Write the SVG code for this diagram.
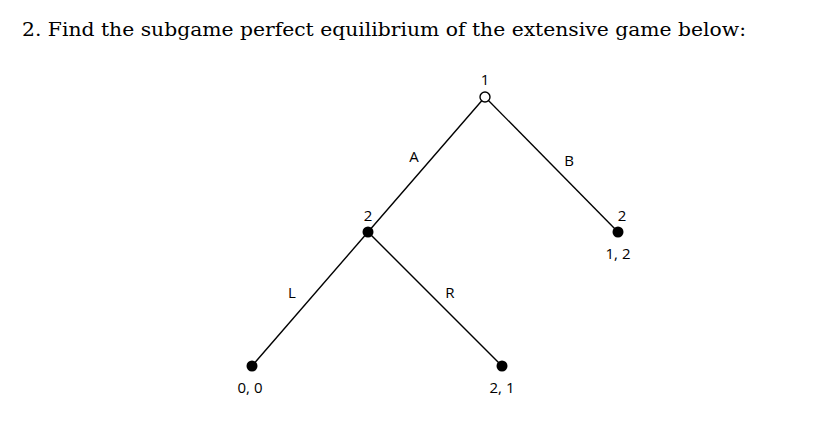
<svg xmlns="http://www.w3.org/2000/svg" width="816" height="423" viewBox="0 0 816 423">
<style>
.t{font-family:"DejaVu Serif","Liberation Serif",serif;font-size:19px;fill:#000}
.l{font-family:"Open Sans","Liberation Sans",sans-serif;font-size:15px;fill:#000}
.e{stroke:#000;stroke-width:1.4;fill:none}
.d{fill:#000}
</style>
<rect width="816" height="423" fill="#fff"/>
<text class="t" x="22" y="36" textLength="724" lengthAdjust="spacingAndGlyphs">2.  Find the subgame perfect equilibrium of the extensive game below:</text>
<g id="connectors">
<line class="e" x1="485" y1="97" x2="368" y2="232"/>
<line class="e" x1="485" y1="97" x2="618" y2="232"/>
<line class="e" x1="368" y1="232" x2="252" y2="366"/>
<line class="e" x1="368" y1="232" x2="502" y2="366"/>
</g>
<g id="n1"><circle cx="485" cy="97" r="5" fill="#fff" stroke="#000" stroke-width="1.4"/><text class="l" x="485" y="85" text-anchor="middle">1</text></g>
<g id="n2"><circle class="d" cx="368" cy="232" r="5.5"/><text class="l" x="368" y="221" text-anchor="middle">2</text></g>
<g id="n3"><circle class="d" cx="618" cy="232" r="5.5"/><text class="l" x="622" y="221" text-anchor="middle">2</text><text class="l" x="618" y="259" text-anchor="middle">1, 2</text></g>
<g id="n4"><circle class="d" cx="252" cy="366" r="5.5"/><text class="l" x="250" y="393" text-anchor="middle">0, 0</text></g>
<g id="n5"><circle class="d" cx="502" cy="366" r="5.5"/><text class="l" x="502" y="393" text-anchor="middle">2, 1</text></g>
<g id="labels">
<text class="l" x="414" y="162" text-anchor="middle">A</text>
<text class="l" x="569" y="166" text-anchor="middle">B</text>
<text class="l" x="292" y="298" text-anchor="middle">L</text>
<text class="l" x="450" y="298" text-anchor="middle">R</text>
</g>
</svg>
